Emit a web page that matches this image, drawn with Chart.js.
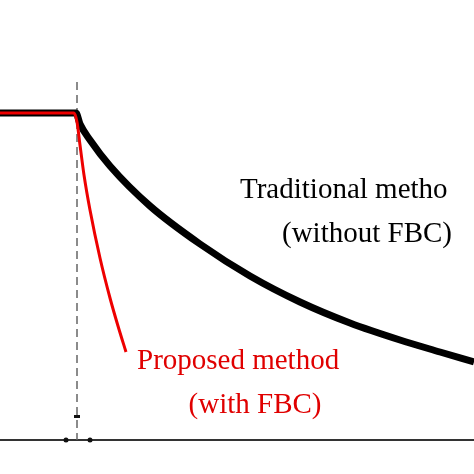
<!DOCTYPE html>
<html><head><meta charset="utf-8">
<script src="https://cdn.jsdelivr.net/npm/chart.js@4.4.0/dist/chart.umd.min.js"></script>
<style>html,body{margin:0;padding:0;background:#fff}#w{width:474px;height:474px}</style>
</head><body><div id="w"><canvas id="c"></canvas></div>
<script>
const traditionalX = [0,76,80,90,110,150,200,250,300,350,400,440,474];
const traditionalY = [113,113,124,140,166,206,244,276,302,323,340,352,362];
const proposedX = [0,74,77,80,84,90,100,110,118,126];
const proposedY = [113,113,122,145,175,210,258,298,326,352];
const axisX = [0,474];
const axisY = [440,440];
const dashX = [77,77];
const dashY = [82,440];
const labels = [
  {t:"Traditional metho", x:240, y:198, c:"#000", a:"left"},
  {t:"(without FBC)", x:367, y:242, c:"#000", a:"center"},
  {t:"Proposed method", x:137, y:369, c:"#e00000", a:"left"},
  {t:"(with FBC)", x:255, y:413, c:"#e00000", a:"center"}
];
const pts=(xs,ys)=>xs.map((x,i)=>({x,y:ys[i]}));
const textPlugin={id:'txt',afterDatasetsDraw(ch){const g=ch.ctx;g.save();g.font='29px "Liberation Serif", serif';g.textBaseline='alphabetic';
labels.forEach(l=>{g.fillStyle=l.c;g.textAlign=l.a;g.fillText(l.t,l.x,l.y);});
const xs=ch.scales.x, ys=ch.scales.y;g.fillStyle='#111';
[66,90].forEach(v=>{g.beginPath();g.arc(xs.getPixelForValue(v),ys.getPixelForValue(440),2.5,0,7);g.fill();});
g.fillRect(xs.getPixelForValue(77)-3,ys.getPixelForValue(417)-2,6,3);
g.restore();}};
new Chart(document.getElementById('c'),{type:'scatter',
data:{datasets:[
 {data:pts(proposedX,proposedY),showLine:true,borderColor:'#ee0000',borderWidth:3,pointRadius:0,cubicInterpolationMode:'monotone'},
 {data:pts(traditionalX,traditionalY),showLine:true,borderColor:'#000',borderWidth:7,pointRadius:0,cubicInterpolationMode:'monotone'},
 {data:pts(dashX,dashY),showLine:true,borderColor:'#666',borderWidth:1.5,borderDash:[8,5],pointRadius:0},
 {data:pts(axisX,axisY),showLine:true,borderColor:'#333',borderWidth:2,pointRadius:0}
]},
options:{responsive:true,maintainAspectRatio:false,animation:false,layout:{padding:0},
plugins:{legend:{display:false},tooltip:{enabled:false}},
scales:{x:{type:'linear',min:0,max:474,display:false},y:{type:'linear',min:0,max:474,reverse:true,display:false}}},
plugins:[textPlugin]});
</script></body></html>
